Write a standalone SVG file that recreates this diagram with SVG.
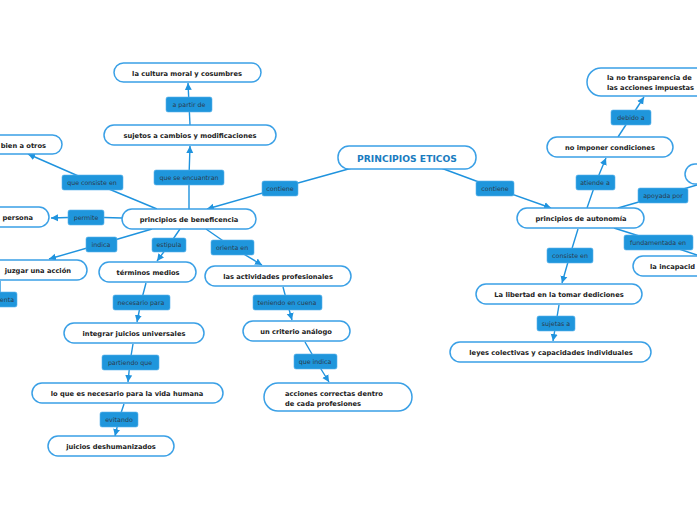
<svg xmlns="http://www.w3.org/2000/svg" width="697" height="520" viewBox="0 0 697 520">
<defs>
<marker id="ah" markerWidth="8" markerHeight="8" refX="7" refY="4" orient="auto" markerUnits="userSpaceOnUse">
<path d="M0,0.5 L7,4 L0,7.5 Z" fill="#1f93de"/>
</marker>
<style>
.n rect{fill:#fff;stroke:#3aa0e6;stroke-width:1.5}
.n text{font-family:"DejaVu Sans",Verdana,sans-serif;font-weight:bold;font-size:6.7px;fill:#222;text-anchor:middle}
.l rect{fill:#1f96dc;stroke:#5ab4ec;stroke-width:0.6}
.l text{font-family:"DejaVu Sans",Verdana,sans-serif;font-size:6.3px;fill:#2b3b4b;text-anchor:middle}
.c polyline{fill:none;stroke:#1f93de;stroke-width:1.4}
</style>
</defs>
<rect width="697" height="520" fill="#fff"/>
<g id="connectors" class="c">
<polyline points="352,168 280,188 207,209" marker-end="url(#ah)"/>
<polyline points="441,168 495,188 551,208" marker-end="url(#ah)"/>
<polyline points="189,209 189,177 190,146" marker-end="url(#ah)"/>
<polyline points="190,125 189,104 188,83" marker-end="url(#ah)"/>
<polyline points="157,209 92,182 28,154" marker-end="url(#ah)"/>
<polyline points="122,218 86,217 51,218" marker-end="url(#ah)"/>
<polyline points="152,229 101,244 49,259" marker-end="url(#ah)"/>
<polyline points="0,281 0,292"/>
<polyline points="180,229 169,245 157,261" marker-end="url(#ah)"/>
<polyline points="206,229 232,247 262,265" marker-end="url(#ah)"/>
<polyline points="146,283 141,302 137,322" marker-end="url(#ah)"/>
<polyline points="283,287 287,302 292,320" marker-end="url(#ah)"/>
<polyline points="133,344 130,362 128,382" marker-end="url(#ah)"/>
<polyline points="305,342 316,361 329,382" marker-end="url(#ah)"/>
<polyline points="124,404 119,419 115,436" marker-end="url(#ah)"/>
<polyline points="587,208 596,182 606,158" marker-end="url(#ah)"/>
<polyline points="618,137 631,117 644,97" marker-end="url(#ah)"/>
<polyline points="618,208 663,195 697,185"/>
<polyline points="614,228 658,242 697,255"/>
<polyline points="578,229 570,255 562,283" marker-end="url(#ah)"/>
<polyline points="559,305 556,323 553,341" marker-end="url(#ah)"/>
</g>
<g id="labels">
<g id="lb-contiene1" class="l"><rect x="262" y="181" width="36" height="15" rx="2"/><text x="280" y="191">contiene</text></g>
<g id="lb-contiene2" class="l"><rect x="476" y="181" width="38" height="15" rx="2"/><text x="495" y="191">contiene</text></g>
<g id="lb-encuantran" class="l"><rect x="154" y="170" width="70" height="15" rx="2"/><text x="189" y="180">que se encuantran</text></g>
<g id="lb-apartir" class="l"><rect x="166" y="97" width="46" height="15" rx="2"/><text x="189" y="107">a partir de</text></g>
<g id="lb-consiste1" class="l"><rect x="62" y="175" width="61" height="15" rx="2"/><text x="92" y="185">que consiste en</text></g>
<g id="lb-permite" class="l"><rect x="68" y="210" width="36" height="15" rx="2"/><text x="86" y="220">permite</text></g>
<g id="lb-indica" class="l"><rect x="86" y="237" width="31" height="15" rx="2"/><text x="101" y="247">indica</text></g>
<g id="lb-enta" class="l"><rect x="-40" y="292" width="57" height="15" rx="2"/><text x="14" y="302" style="text-anchor:end">enta</text></g>
<g id="lb-estipula" class="l"><rect x="152" y="238" width="34" height="14" rx="2"/><text x="169" y="247">estipula</text></g>
<g id="lb-orienta" class="l"><rect x="211" y="240" width="43" height="15" rx="2"/><text x="232" y="250">orienta en</text></g>
<g id="lb-necesario" class="l"><rect x="113" y="295" width="57" height="15" rx="2"/><text x="141" y="305">necesario para</text></g>
<g id="lb-teniendo" class="l"><rect x="253" y="295" width="69" height="15" rx="2"/><text x="287" y="305">teniendo en cuena</text></g>
<g id="lb-partiendo" class="l"><rect x="102" y="355" width="57" height="15" rx="2"/><text x="130" y="365">partiendo que</text></g>
<g id="lb-queindica" class="l"><rect x="294" y="354" width="43" height="15" rx="2"/><text x="315" y="364">que indica</text></g>
<g id="lb-evitando" class="l"><rect x="100" y="412" width="38" height="15" rx="2"/><text x="119" y="422">evitando</text></g>
<g id="lb-debido" class="l"><rect x="611" y="110" width="40" height="15" rx="2"/><text x="631" y="120">debido a</text></g>
<g id="lb-atiende" class="l"><rect x="576" y="175" width="39" height="15" rx="2"/><text x="595" y="185">atiende a</text></g>
<g id="lb-apoyada" class="l"><rect x="638" y="188" width="50" height="15" rx="2"/><text x="663" y="198">apoyada por</text></g>
<g id="lb-fundamentada" class="l"><rect x="624" y="235" width="69" height="15" rx="2"/><text x="658" y="245">fundamentada en</text></g>
<g id="lb-consiste2" class="l"><rect x="547" y="248" width="46" height="15" rx="2"/><text x="570" y="258">consiste en</text></g>
<g id="lb-sujetas" class="l"><rect x="537" y="316" width="38" height="15" rx="2"/><text x="556" y="326">sujetas a</text></g>
</g>
<g id="n-principios-eticos" class="n"><rect x="338" y="146" width="138" height="23" rx="11"/><text x="407" y="161.5" style="font-size:9.2px;fill:#1a7cc0">PRINCIPIOS ETICOS</text></g>
<g id="n-cultura" class="n"><rect x="114" y="63" width="147" height="19" rx="9.5"/><text x="187" y="75.5">la cultura moral y cosumbres</text></g>
<g id="n-sujetos" class="n"><rect x="104" y="125" width="172" height="20" rx="10"/><text x="190" y="137.5">sujetos a cambios y modificaciones</text></g>
<g id="n-bien" class="n"><rect x="-60" y="135" width="122" height="19" rx="9.5"/><text x="46" y="147.5" style="text-anchor:end">bien a otros</text></g>
<g id="n-persona" class="n"><rect x="-60" y="207" width="109" height="20" rx="10"/><text x="33" y="219.5" style="text-anchor:end">persona</text></g>
<g id="n-beneficencia" class="n"><rect x="122" y="209" width="134" height="20" rx="10"/><text x="189" y="221.5">principios de beneficencia</text></g>
<g id="n-juzgar" class="n"><rect x="-60" y="260" width="147" height="20" rx="10"/><text x="71" y="272.5" style="text-anchor:end">juzgar una acción</text></g>
<g id="n-terminos" class="n"><rect x="99" y="262" width="97" height="20" rx="10"/><text x="148" y="274.5">términos medios</text></g>
<g id="n-actividades" class="n"><rect x="205" y="266" width="146" height="20" rx="10"/><text x="278" y="278.5">las actividades profesionales</text></g>
<g id="n-integrar" class="n"><rect x="64" y="323" width="140" height="20" rx="10"/><text x="134" y="335.5">integrar juicios universales</text></g>
<g id="n-criterio" class="n"><rect x="243" y="321" width="107" height="20" rx="10"/><text x="296" y="333.5">un criterio análogo</text></g>
<g id="n-necesario" class="n"><rect x="32" y="383" width="191" height="20" rx="10"/><text x="127" y="395.5">lo que es necesario para la vida humana</text></g>
<g id="n-acciones" class="n"><rect x="264" y="383" width="148" height="28" rx="14"/><text x="285" y="396" style="text-anchor:start">acciones correctas dentro</text><text x="285" y="405.5" style="text-anchor:start">de cada profesiones</text></g>
<g id="n-juicios" class="n"><rect x="48" y="436" width="126" height="20" rx="10"/><text x="111" y="448.5">juicios deshumanizados</text></g>
<g id="n-transparencia" class="n"><rect x="587" y="68" width="140" height="28" rx="14"/><text x="607" y="80" style="text-anchor:start">la no transparencia de</text><text x="607" y="89.5" style="text-anchor:start">las acciones impuestas</text></g>
<g id="n-imponer" class="n"><rect x="547" y="137" width="126" height="20" rx="10"/><text x="610" y="149.5">no imponer condiciones</text></g>
<g id="n-partial" class="n"><rect x="685" y="164" width="60" height="20" rx="10"/></g>
<g id="n-autonomia" class="n"><rect x="517" y="208" width="127" height="20" rx="10"/><text x="581" y="220.5">principios de autonomía</text></g>
<g id="n-incapacid" class="n"><rect x="633" y="256" width="100" height="20" rx="10"/><text x="650" y="268.5" style="text-anchor:start">la incapacid</text></g>
<g id="n-libertad" class="n"><rect x="476" y="284" width="166" height="20" rx="10"/><text x="559" y="296.5">La libertad en la tomar dediciones</text></g>
<g id="n-leyes" class="n"><rect x="450" y="342" width="201" height="20" rx="10"/><text x="551" y="354.5">leyes colectivas y capacidades individuales</text></g>
</svg>
